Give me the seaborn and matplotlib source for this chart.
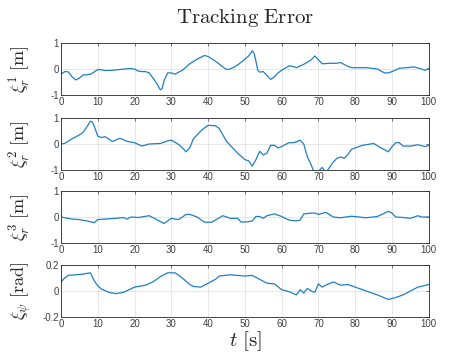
# Tracking error of the four tracked states over a 100 s run

import numpy as np
import pandas as pd
import matplotlib
matplotlib.use("Agg")
import matplotlib.pyplot as plt
import seaborn as sns

# --- data --------------------------------------------------------------------

t_xi1 = [0, 0.5, 1, 2, 3, 4, 5, 6, 7, 8, 9, 10, 11, 12, 14, 16, 19, 20, 21, 22, 23,
         24, 25, 26, 27, 27.5, 28, 29, 30, 31, 32, 33, 35, 37, 39, 40, 42, 44, 45, 46,
         48, 50, 51, 52, 52.5, 53, 53.5, 54, 55, 56, 57, 58, 59, 60, 62, 63, 64, 66,
         68, 69, 70, 71, 73, 75, 76, 78, 79, 83, 86, 87, 88, 89, 90, 92, 94, 96, 98,
         99, 100]
xi1 = [-0.2, -0.15, -0.1, -0.11, -0.3, -0.42, -0.35, -0.23, -0.22, -0.2, -0.12,
       -0.02, -0.03, -0.06, -0.05, -0.02, 0.02, 0.0, -0.08, -0.1, -0.1, -0.15, -0.35,
       -0.55, -0.8, -0.75, -0.45, -0.15, -0.15, -0.2, -0.12, -0.05, 0.2, 0.38, 0.52,
       0.48, 0.3, 0.08, -0.02, 0.0, 0.15, 0.38, 0.5, 0.7, 0.6, 0.3, -0.05, -0.12,
       -0.1, -0.25, -0.4, -0.3, -0.15, -0.05, 0.12, 0.1, 0.05, 0.18, 0.35, 0.5, 0.35,
       0.2, 0.22, 0.22, 0.25, 0.1, 0.05, 0.05, 0.0, -0.08, -0.15, -0.15, -0.1, 0.03,
       0.05, 0.08, 0.0, -0.05, 0.02]

t_xi2 = [0, 1, 3, 5, 6, 7, 8, 8.5, 9, 10, 11, 12, 14, 16, 18, 20, 22, 24, 27, 29, 30,
         32, 33, 34, 35, 36, 38, 39, 40, 42, 43, 44, 45, 48, 50, 51, 52, 53, 54, 55,
         56, 57, 58, 59, 60, 61, 62, 63, 64, 65, 66, 67, 68, 69, 70, 71, 72, 73, 74,
         75, 76, 77, 78, 79, 80, 82, 85, 87, 89, 90, 91, 92, 93, 95, 97, 99, 100]
xi2 = [0.0, 0.02, 0.2, 0.35, 0.45, 0.65, 0.88, 0.85, 0.7, 0.3, 0.25, 0.28, 0.1, 0.22,
       0.1, 0.05, -0.08, 0.0, 0.02, 0.12, 0.15, -0.02, -0.15, -0.3, -0.15, 0.2, 0.5,
       0.62, 0.72, 0.7, 0.6, 0.35, 0.1, -0.35, -0.6, -0.65, -0.85, -0.6, -0.28, -0.42,
       -0.35, -0.05, -0.05, -0.15, -0.1, -0.02, 0.05, 0.05, 0.08, 0.15, 0.0, -0.5,
       -0.8, -1.15, -1.05, -0.9, -1.1, -0.9, -0.7, -0.55, -0.5, -0.55, -0.4, -0.2,
       -0.15, -0.05, 0.02, -0.15, -0.3, -0.1, 0.05, 0.05, -0.08, -0.08, -0.03, -0.1,
       -0.05]

t_xi3 = [0, 3, 5, 7, 9, 10, 12, 15, 17, 18, 19, 21, 24, 26, 28, 30, 31, 32, 34, 35,
         37, 39, 41, 44, 46, 48, 49, 51, 52, 53, 54, 55, 56, 58, 60, 62, 64, 65, 66,
         68, 69, 70, 72, 74, 76, 79, 81, 83, 86, 88, 89, 90, 91, 93, 95, 97, 98, 100]
xi3 = [0.0, -0.08, -0.1, -0.15, -0.22, -0.1, -0.08, -0.05, -0.02, -0.08, 0.0, -0.02,
       0.05, -0.1, -0.25, -0.05, -0.08, -0.1, 0.1, 0.1, 0.0, -0.2, -0.2, 0.05, -0.05,
       -0.05, -0.2, -0.18, -0.15, 0.02, 0.02, -0.05, 0.05, 0.12, 0.02, -0.12, -0.15,
       -0.12, 0.12, 0.15, 0.15, 0.1, 0.18, 0.0, -0.03, 0.03, 0.0, -0.03, 0.02, 0.15,
       0.22, 0.15, 0.0, -0.02, -0.05, 0.05, 0.0, 0.0]

t_psi = [0, 1, 2, 4, 6, 8, 9, 10, 11, 13, 15, 17, 20, 23, 25, 27, 29, 31, 33, 35,
         36, 38, 40, 42, 43, 46, 50, 52, 54, 56, 58, 60, 62, 64, 65, 66, 67, 68, 69,
         70, 71, 72, 74, 76, 78, 80, 83, 86, 89, 91, 93, 95, 97, 100]
xi_psi = [0.07, 0.1, 0.12, 0.125, 0.13, 0.14, 0.08, 0.04, 0.015, -0.01, -0.02, -0.01,
          0.03, 0.045, 0.07, 0.11, 0.14, 0.14, 0.1, 0.05, 0.035, 0.03, 0.06, 0.09,
          0.115, 0.125, 0.115, 0.12, 0.09, 0.06, 0.055, 0.01, -0.005, -0.03, 0.01,
          -0.015, 0.02, 0.0, -0.01, 0.055, 0.03, 0.045, 0.07, 0.045, 0.05, 0.03, 0.0,
          -0.03, -0.065, -0.05, -0.03, 0.0, 0.03, 0.05]

panels = [
    (t_xi1, xi1, r"$\xi_r^1\ [\mathrm{m}]$", (-1, 1), [-1, 0, 1]),
    (t_xi2, xi2, r"$\xi_r^2\ [\mathrm{m}]$", (-1, 1), [-1, 0, 1]),
    (t_xi3, xi3, r"$\xi_r^3\ [\mathrm{m}]$", (-1, 1), [-1, 0, 1]),
    (t_psi, xi_psi, r"$\xi_\psi\ [\mathrm{rad}]$", (-0.2, 0.2), [-0.2, 0, 0.2]),
]

# --- plot ---------------------------------------------------------------------

sns.set_style("white")
plt.rcParams["font.family"] = ["Liberation Sans", "DejaVu Sans"]
plt.rcParams["mathtext.fontset"] = "cm"
plt.rcParams["axes.unicode_minus"] = False

fig = plt.figure(figsize=(4.74, 3.55), dpi=100)
bottoms = [0.7324, 0.5211, 0.3155, 0.107]

for (t, err, label, ylim, yticks), b in zip(panels, bottoms):
    ax = fig.add_axes([0.1287, b, 0.776, 0.1465])
    df = pd.DataFrame({"t": t, "err": err})
    sns.lineplot(data=df, x="t", y="err", ax=ax, color="#1f7fc4", linewidth=0.9)
    ax.set_xlim(0, 100)
    ax.set_ylim(*ylim)
    ax.set_xticks(np.arange(0, 101, 10))
    ax.set_yticks(yticks)
    ax.set_yticklabels(["%g" % v for v in yticks])
    ax.grid(True, color="#e3e3e3", linewidth=0.6)
    ax.tick_params(direction="in", labelsize=7, length=2.5, width=0.5,
                   colors="#404040", pad=1.5, top=True, right=True)
    for sp in ax.spines.values():
        sp.set_linewidth(0.6)
        sp.set_color("#262626")
    ax.set_xlabel("")
    ax.set_ylabel(label, fontsize=13)
    ax.yaxis.set_label_coords(-0.075, 0.5)

fig.text(0.517, 0.948, r"$\mathrm{Tracking\ Error}$", fontsize=15, ha="center", va="center")
fig.text(0.517, 0.04, r"$t\ [\mathrm{s}]$", fontsize=15, ha="center", va="center")

fig.savefig("out.png", dpi=100)
